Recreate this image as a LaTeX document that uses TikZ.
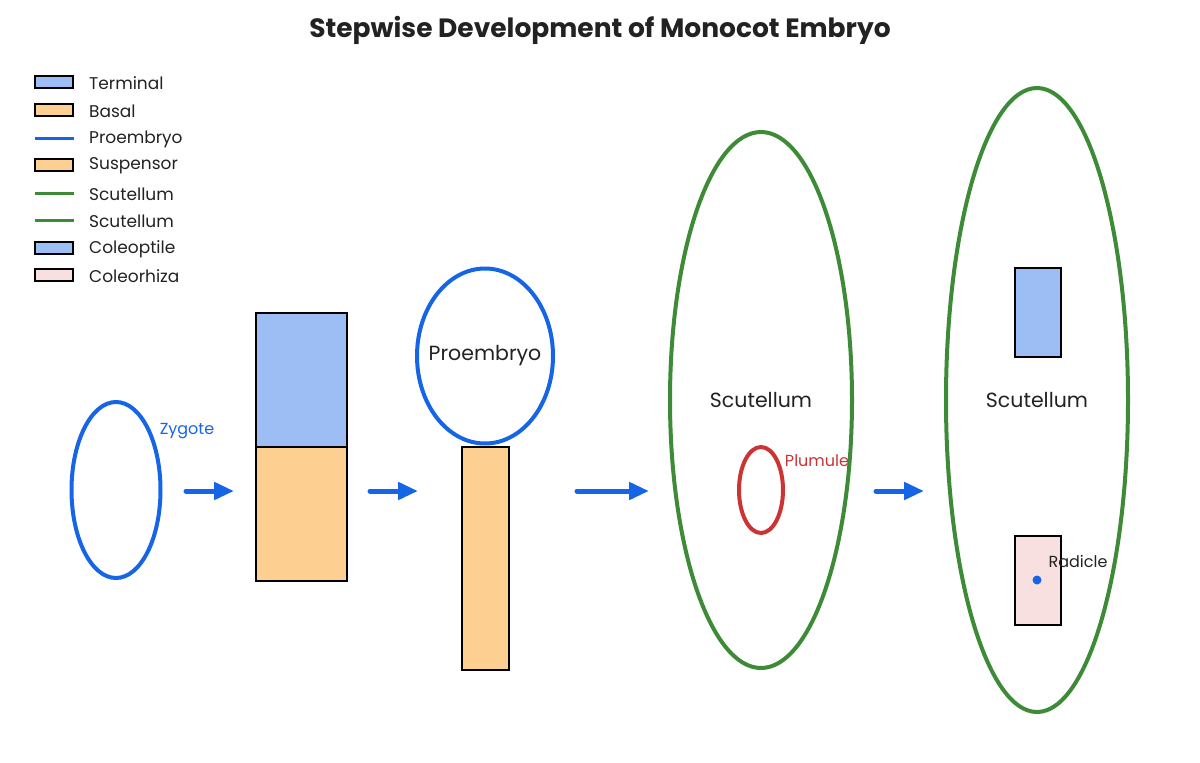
\documentclass[tikz,border=0pt]{standalone}
\usepackage{fontspec}
\setmainfont{Poppins}
\usetikzlibrary{shapes.geometric,arrows.meta}
\definecolor{eblue}{HTML}{1565E6}
\definecolor{tfill}{HTML}{9DBEF5}
\definecolor{bfill}{HTML}{FDD092}
\definecolor{sgreen}{HTML}{3D8B37}
\definecolor{pred}{HTML}{CC3333}
\definecolor{pink}{HTML}{F9E0E0}
\definecolor{txt}{HTML}{222222}
\tikzset{
  cellbox/.style={draw=black,line width=2.2pt,inner sep=0pt,anchor=north west},
  oval/.style={ellipse,draw,inner sep=0pt},
  arr/.style={draw=eblue,line width=5pt,line cap=round,-{Triangle[length=20pt,width=17pt]}},
  lgbox/.style={draw=black,line width=2.2pt,minimum width=38pt,minimum height=12pt,inner sep=0pt},
  lgline/.style={line width=3pt},
  lgtext/.style={anchor=west,font=\fontsize{17}{20}\selectfont,text=txt,inner sep=0pt},
  lbl/.style={font=\fontsize{20.5}{24}\selectfont,text=txt}
}
\begin{document}
\begin{tikzpicture}[x=1pt,y=-1pt]
\useasboundingbox (0,0) rectangle (1200,763);
\node[font=\bfseries\fontsize{26.5}{30}\selectfont,text=txt] (title) at (600,30) {Stepwise Development of Monocot Embryo};
% legend
\node[lgbox,fill=tfill] (l1) at (54,82) {};
\node[lgtext] (t1) at (89,83) {Terminal};
\node[lgbox,fill=bfill] (l2) at (54,110) {};
\node[lgtext] (t2) at (89,111) {Basal};
\coordinate (l3a) at (35,138); \coordinate (l3b) at (74,138);
\draw[lgline,eblue] (l3a) -- (l3b);
\node[lgtext] (t3) at (89,139) {Proembryo};
\node[lgbox,fill=bfill] (l4) at (54,165) {};
\node[lgtext] (t4) at (89,166) {Suspensor};
\coordinate (l5a) at (35,193); \coordinate (l5b) at (74,193);
\draw[lgline,sgreen] (l5a) -- (l5b);
\node[lgtext] (t5) at (89,194) {Scutellum};
\coordinate (l6a) at (35,220); \coordinate (l6b) at (74,220);
\draw[lgline,sgreen] (l6a) -- (l6b);
\node[lgtext] (t6) at (89,221) {Scutellum};
\node[lgbox,fill=tfill] (l7) at (54,248) {};
\node[lgtext] (t7) at (89,249) {Coleoptile};
\node[lgbox,fill=pink] (l8) at (54,275) {};
\node[lgtext] (t8) at (89,276) {Coleorhiza};
% stage 1 zygote
\node[oval,draw=eblue,line width=4pt,minimum width=89pt,minimum height=176pt] (zyg) at (116,490) {};
\node[font=\fontsize{16}{19}\selectfont,text=eblue] (zygl) at (187,431) {Zygote};
% stage 2
\node[cellbox,fill=tfill,minimum width=91pt,minimum height=134pt] (term) at (255,312) {};
\node[cellbox,fill=bfill,minimum width=91pt,minimum height=134pt] (basal) at (255,446) {};
% stage 3
\node[cellbox,fill=bfill,minimum width=47pt,minimum height=223pt] (susp) at (461,446) {};
\node[oval,draw=eblue,line width=4pt,minimum width=136pt,minimum height=175pt] (pro) at (485,356) {};
\node[lbl] (prol) at (485,356) {Proembryo};
% stage 4
\node[oval,draw=sgreen,line width=4pt,minimum width=182pt,minimum height=536pt] (scu1) at (761,400) {};
\node[lbl] (scu1l) at (761,400) {Scutellum};
\node[oval,draw=pred,line width=4pt,minimum width=44pt,minimum height=86pt] (plu) at (761,490) {};
\node[font=\fontsize{16}{19}\selectfont,text=pred] (plul) at (817,461) {Plumule};
% stage 5
\node[oval,draw=sgreen,line width=4pt,minimum width=182pt,minimum height=624pt] (scu2) at (1037,400) {};
\node[lbl] (scu2l) at (1037,400) {Scutellum};
\node[cellbox,fill=tfill,minimum width=46pt,minimum height=89pt] (coleo) at (1014,267) {};
\node[cellbox,fill=pink,minimum width=46pt,minimum height=89pt] (coleor) at (1014,535) {};
\node[circle,fill=eblue,minimum size=9pt,inner sep=0pt] (rad) at (1037,580) {};
\node[font=\fontsize{16}{19}\selectfont,text=txt] (radl) at (1078,561) {Radicle};
% arrows
\coordinate (a1s) at (186,491); \coordinate (a1e) at (234,491);
\coordinate (a2s) at (370,491); \coordinate (a2e) at (418,491);
\coordinate (a3s) at (577,491); \coordinate (a3e) at (649,491);
\coordinate (a4s) at (876,491); \coordinate (a4e) at (924,491);
\draw[arr] (a1s) -- (a1e);
\draw[arr] (a2s) -- (a2e);
\draw[arr] (a3s) -- (a3e);
\draw[arr] (a4s) -- (a4e);
\end{tikzpicture}
\end{document}
